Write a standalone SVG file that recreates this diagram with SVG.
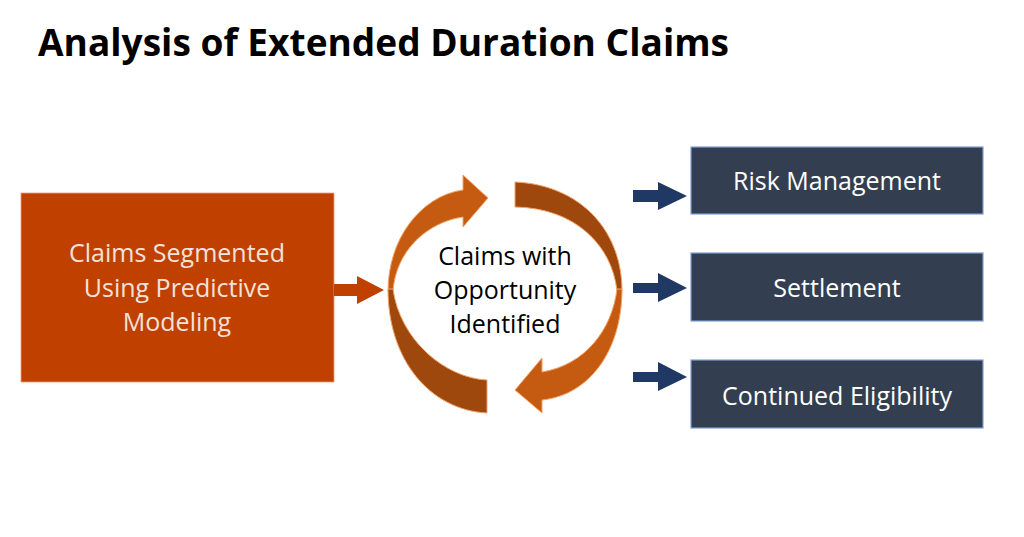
<svg xmlns="http://www.w3.org/2000/svg" width="1024" height="537" viewBox="0 0 1024 537">
<defs>
<style>
.t{font-family:"Open Sans","Liberation Sans",sans-serif;font-size:25px;text-anchor:middle}
.w{fill:#ffffff}
.lw{fill:#f3e2da}
.k{fill:#000000}
.box{fill:#333f50;stroke:#7f9fd6;stroke-width:1.2}
.ba{fill:#203864}
.lt{fill:#c55a11;stroke:#f4a36a;stroke-width:1}
.dk{fill:#9e480e;stroke:#f4a36a;stroke-width:1}
</style>
</defs>
<rect width="1024" height="537" fill="#ffffff"/>
<text x="38" y="56" font-family="Open Sans, Liberation Sans, sans-serif" font-weight="bold" font-size="37" textLength="691" lengthAdjust="spacingAndGlyphs" fill="#000">Analysis of Extended Duration Claims</text>

<g id="segmented">
<rect x="21" y="193" width="313" height="189" fill="#c04000" stroke="#e8a080" stroke-width="0.8"/>
<text class="t lw" x="177" y="262">Claims Segmented</text>
<text class="t lw" x="177" y="297">Using Predictive</text>
<text class="t lw" x="177" y="331">Modeling</text>
</g>

<g id="cycle">
<path class="lt" d="M463,190 L463,175 L488,198 L463,227 L463,217 C428,222 396,250 393,291 L388,291 C388,240 420,196 463,190 Z"/>
<path class="dk" d="M388,289 C388,360 430,410 487,413 L487,380 C445,378 400,340 393,289 Z"/>
<path class="dk" d="M515,182 C580,185 622,230 622,291 L617,291 C612,245 575,208 515,207 Z"/>
<path class="lt" d="M622,289 C622,350 590,395 542,400 L542,413 L515,390 L542,358 L542,372 C585,365 612,330 617,289 Z"/>
<text class="t k" x="505" y="265">Claims with</text>
<text class="t k" x="505" y="299">Opportunity</text>
<text class="t k" x="505" y="333">Identified</text>
</g>

<g id="risk">
<rect class="box" x="691" y="147" width="292" height="67"/>
<text class="t w" x="837" y="190">Risk Management</text>
</g>
<g id="settlement">
<rect class="box" x="691" y="253" width="292" height="68"/>
<text class="t w" x="837" y="297">Settlement</text>
</g>
<g id="eligibility">
<rect class="box" x="691" y="360" width="292" height="68"/>
<text class="t w" x="837" y="405">Continued Eligibility</text>
</g>

<g id="connectors">
<path fill="#c04000" d="M334,284 L357,284 L357,276 L384,290 L357,304 L357,296 L334,296 Z"/>
<path class="ba" d="M633,190 L658,190 L658,182 L687,196 L658,210 L658,202 L633,202 Z"/>
<path class="ba" d="M633,283 L658,283 L658,273 L687,288 L658,302 L658,293 L633,293 Z"/>
<path class="ba" d="M633,372 L658,372 L658,362 L687,377 L658,391 L658,382 L633,382 Z"/>
</g>
</svg>
